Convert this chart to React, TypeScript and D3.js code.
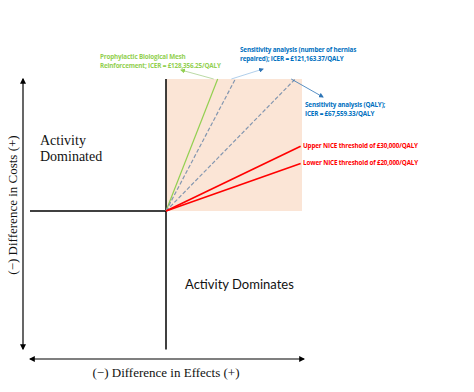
import React from "react";
import * as d3 from "d3";

// ICER lines on the cost-effectiveness plane (schematic end points, plane units)
const lineNames = [
  "Prophylactic Biological Mesh",
  "Sensitivity analysis (number of hernias repaired)",
  "Sensitivity analysis (QALY)",
  "Upper NICE threshold",
  "Lower NICE threshold",
];
const lineEffect = [0.38, 0.51, 0.95, 0.99, 0.99];
const lineCost = [1, 1, 1, 0.49, 0.36];
const lineColor = ["#92d050", "#8497b0", "#8497b0", "#ff0000", "#ff0000"];
const lineDash = [null, "4,2", "4,2", null, null];

const noteLines = [
  ["Prophylactic Biological Mesh", "Reinforcement; ICER = £128,356.25/QALY"],
  ["Sensitivity analysis (number of hernias", "repaired); ICER = £121,163.37/QALY"],
  ["Sensitivity analysis (QALY);", "ICER = £67,559.33/QALY"],
  ["Upper NICE threshold of £30,000/QALY"],
  ["Lower NICE threshold of £20,000/QALY"],
];
const noteColor = ["#92d050", "#0070c0", "#0070c0", "#ff0000", "#ff0000"];

const App = () => {
  const svgRef = React.useRef<SVGSVGElement>(null);
  const width = 474;
  const height = 392;

  React.useEffect(() => {
    const x = d3.scaleLinear().domain([-1, 1]).range([30, 302]);
    const y = d3.scaleLinear().domain([-1, 1]).range([343, 79]);

    const svg = d3.select(svgRef.current);
    svg.selectAll("*").remove();

    const defs = svg.append("defs");
    const marker = (id: string, color: string, size: number) =>
      defs
        .append("marker")
        .attr("id", id)
        .attr("viewBox", "0 0 10 10")
        .attr("refX", 8)
        .attr("refY", 5)
        .attr("markerWidth", size)
        .attr("markerHeight", size)
        .attr("orient", "auto-start-reverse")
        .attr("markerUnits", "userSpaceOnUse")
        .append("path")
        .attr("d", "M0,0L10,5L0,10z")
        .attr("fill", color);
    marker("arrBlack", "#000", 6);
    marker("arrGreen", "#92d050", 5);
    marker("arrBlue", "#2e75b6", 5);

    svg.append("rect").attr("width", width).attr("height", height).attr("fill", "#fff");

    // shaded NE quadrant
    svg
      .append("rect")
      .attr("x", x(0))
      .attr("y", y(1))
      .attr("width", x(1) - x(0))
      .attr("height", y(0) - y(1))
      .attr("fill", "#fbe5d6");

    // quadrant axes
    svg
      .append("line")
      .attr("x1", x(-1))
      .attr("x2", x(0))
      .attr("y1", y(0))
      .attr("y2", y(0))
      .attr("stroke", "#000")
      .attr("stroke-width", 1.5);
    svg
      .append("line")
      .attr("x1", x(0))
      .attr("x2", x(0))
      .attr("y1", y(1))
      .attr("y2", y(-1.05))
      .attr("stroke", "#000")
      .attr("stroke-width", 1.5);

    // outer arrows
    svg
      .append("line")
      .attr("x1", 23)
      .attr("x2", 23)
      .attr("y1", 79)
      .attr("y2", 349)
      .attr("stroke", "#000")
      .attr("stroke-width", 1.2)
      .attr("marker-start", "url(#arrBlack)")
      .attr("marker-end", "url(#arrBlack)");
    svg
      .append("line")
      .attr("x1", x(-1))
      .attr("x2", x(1) + 2)
      .attr("y1", 359)
      .attr("y2", 359)
      .attr("stroke", "#000")
      .attr("stroke-width", 1.2)
      .attr("marker-start", "url(#arrBlack)")
      .attr("marker-end", "url(#arrBlack)");

    // ICER lines
    svg
      .selectAll(".icer")
      .data(lineNames)
      .enter()
      .append("line")
      .attr("class", "icer")
      .attr("x1", x(0))
      .attr("y1", y(0))
      .attr("x2", (_d, i) => x(lineEffect[i]))
      .attr("y2", (_d, i) => y(lineCost[i]))
      .attr("stroke", (_d, i) => lineColor[i])
      .attr("stroke-width", (_d, i) => (i >= 3 ? 1.6 : 1.2))
      .attr("stroke-dasharray", (_d, i) => lineDash[i]);

    // annotations
    const notePos = [
      [100, 59],
      [240, 52],
      [305, 107],
      [303, 148],
      [303, 165],
    ];
    noteLines.forEach((lines, i) => {
      const t = svg
        .append("text")
        .attr("x", notePos[i][0])
        .attr("y", notePos[i][1])
        .attr("fill", noteColor[i])
        .attr("font-family", "'Open Sans', sans-serif")
        .attr("font-weight", "bold")
        .attr("font-size", 6.3)
        .attr("letter-spacing", -0.15);
      lines.forEach((s, j) => {
        t.append("tspan").attr("x", notePos[i][0]).attr("dy", j === 0 ? 0 : 8.5).text(s);
      });
    });

    // callout arrows from line tips to labels
    const callouts = [
      { i: 0, to: [181, 70], m: "arrGreen", c: "#a9d18e" },
      { i: 1, to: [263, 69], m: "arrBlue", c: "#9dc3e6" },
      { i: 2, to: [323, 97], m: "arrBlue", c: "#2e75b6" },
    ];
    callouts.forEach((c) => {
      svg
        .append("line")
        .attr("x1", x(lineEffect[c.i]) - 4)
        .attr("y1", y(lineCost[c.i]))
        .attr("x2", c.to[0])
        .attr("y2", c.to[1])
        .attr("stroke", c.c)
        .attr("stroke-width", 0.8)
        .attr("marker-end", `url(#${c.m})`);
    });

    // quadrant labels
    const dominated = svg
      .append("text")
      .attr("font-family", "'Liberation Serif', 'Times New Roman', serif")
      .attr("font-size", 14)
      .attr("fill", "#111");
    dominated.append("tspan").attr("x", 40).attr("y", 145).text("Activity");
    dominated.append("tspan").attr("x", 40).attr("y", 161).text("Dominated");

    svg
      .append("text")
      .attr("x", 185)
      .attr("y", 289)
      .attr("font-family", "Lato, sans-serif")
      .attr("font-size", 13)
      .attr("fill", "#111")
      .text("Activity Dominates");

    // axis titles
    svg
      .append("text")
      .attr("transform", "translate(17,205) rotate(-90)")
      .attr("text-anchor", "middle")
      .attr("font-family", "'Liberation Serif', 'Times New Roman', serif")
      .attr("font-size", 13)
      .attr("fill", "#111")
      .text("(−) Difference in Costs (+)");
    svg
      .append("text")
      .attr("x", x(0))
      .attr("y", 377)
      .attr("text-anchor", "middle")
      .attr("font-family", "'Liberation Serif', 'Times New Roman', serif")
      .attr("font-size", 13)
      .attr("fill", "#111")
      .text("(−) Difference in Effects (+)");
  }, []);

  return (
    <svg
      ref={svgRef}
      width={width}
      height={height}
      style={{ position: "absolute", left: 0, top: 0 }}
    />
  );
};

export default App;
